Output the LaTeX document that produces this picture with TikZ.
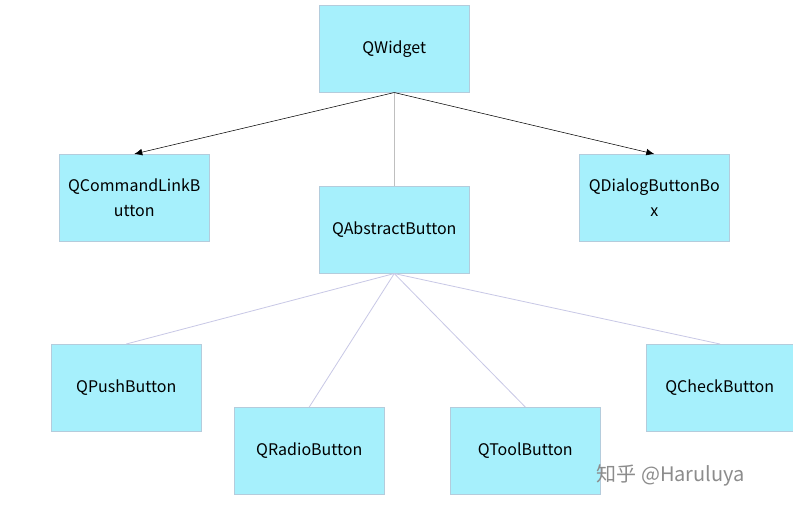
\documentclass[tikz,border=0pt]{standalone}
\usepackage{fontspec}
\usetikzlibrary{arrows.meta}
\setmainfont{Noto Sans CJK SC}
\begin{document}
\begin{tikzpicture}[x=0.75pt,y=-0.75pt,
  box/.style={draw=boxline,fill=boxfill,minimum width=112.5pt,minimum height=65.25pt,inner sep=0pt,font=\fontsize{12}{19}\selectfont,align=center,anchor=north west},
  arr/.style={draw=black,-{Latex[length=6pt,width=5pt]}},
  gline/.style={draw=black!25,line width=0.6pt},
  lline/.style={draw=lav,line width=0.6pt}]
\definecolor{boxfill}{HTML}{A6F0FC}
\definecolor{boxline}{HTML}{B4CCDC}
\definecolor{lav}{HTML}{C8C8E6}
\useasboundingbox[fill=white] (0,0) rectangle (793,511);
\node[box] (w) at (319,5) {QWidget};
\node[box] (c) at (59,154) {QCommandLinkB\\utton};
\node[box] (a) at (319,186) {QAbstractButton};
\node[box] (d) at (579,154) {QDialogButtonBo\\x};
\node[box] (p) at (51,344) {QPushButton};
\node[box] (r) at (234,407) {QRadioButton};
\node[box] (t) at (450,407) {QToolButton};
\node[box,minimum width=110.25pt] (k) at (646,344) {QCheckButton};
\coordinate (kt) at (720,344);
\draw[gline] (w.south) -- (a.north);
\draw[arr] (w.south) -- (c.north);
\draw[arr] (w.south) -- (d.north);
\draw[lline] (a.south) -- (p.north);
\draw[lline] (a.south) -- (r.north);
\draw[lline] (a.south) -- (t.north);
\draw[lline] (a.south) -- (kt);
\node[text=black!45,font=\fontsize{15}{18}\selectfont,anchor=west] (wm) at (592,475) {知乎 @Haruluya};
\end{tikzpicture}
\end{document}
